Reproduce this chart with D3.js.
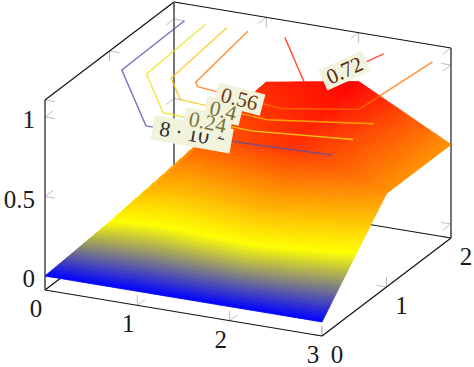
<!DOCTYPE html>
<html><head><meta charset="utf-8">
<style>html,body{margin:0;padding:0;background:#fff}svg{display:block}text{font-family:"Liberation Serif",serif;fill:#1a1a1a}</style>
<script src="https://cdn.jsdelivr.net/npm/d3@7/dist/d3.min.js"></script>
</head><body><script>
// ---- data ----
const xTicks = [0, 1, 2, 3];
const yTicks = [0, 1, 2];
const zTicks = [0, 0.5, 1];
const zTickLabels = ["0", "0.5", "1"];
const surfaceZ0 = [0, 0, 0, 0];
const surfaceZ1 = [0.03, 0.6, 0.7, 0.5];
const surfaceZ2 = [0.08, 0.7, 0.8, 0.5];
const surfaceC0 = [0, 0, 0, 0];
const surfaceC1 = [0.27, 0.6, 0.7, 0.5];
const surfaceC2 = [0.42, 0.72, 0.8, 0.5];
const contour008 = [[0.114,2],[0.133,1],[1,0.133],[2,0.114],[3,0.16]];
const contour024 = [[0.343,2],[0.4,1],[1,0.4],[2,0.343],[3,0.48]];
const contour040 = [[0.571,2],[0.667,1],[1,0.667],[2,0.571],[3,0.8]];
const contour056 = [[0.8,2],[0.933,1],[1,0.933],[2,0.8],[2.7,1],[2.8,2]];
const contour072 = [[1.2,2],[2,1.2],[2.27,2]];
const contourLevels = [0.08, 0.24, 0.4, 0.56, 0.72];
const contourLabelAt = [[1.51,0.12],[1.51,0.36],[1.51,0.6],[1.52,0.84],[2.12,1.61]];
const contourLabelSeg = [2, 2, 2, 2, 1];
const contourLabelInk = ["#2f2f35","#78783a","#77723a","#6b3a18","#5a2408"];

// ---- projection through linear scales ----
const W = 474, H = 367;
const sxX = d3.scaleLinear([0,3],[45,322]), sxY = d3.scaleLinear([0,2],[0,129]);
const syX = d3.scaleLinear([0,3],[276,322]), syY = d3.scaleLinear([0,2],[0,-98]);
const syZ = d3.scaleLinear([0,1],[0,-159]);
const P = (x,y,z) => [sxX(x)+sxY(y), syX(x)+syY(y)+syZ(z)];
const zBot = -0.088, zTop = 1.107, zPlane = 1;
const cmap = d3.scaleLinear([0,0.8/3,1.6/3,0.8],["#0000ff","#ffff00","#ff8000","#ff0000"]).interpolate(d3.interpolateRgb).clamp(true);

const svg = d3.select("body").append("svg").attr("width",W).attr("height",H).attr("viewBox",[0,0,W,H]);
const line = d3.line();
const seg = (g,a,b,col,w)=>g.append("path").attr("d",line([a,b])).attr("fill","none").attr("stroke",col).attr("stroke-width",w);

// ---- ticks ----
const gT = svg.append("g");
const TL = 10;
function tick(o, d){
  const a = P(...o), b0 = P(o[0]+d[0],o[1]+d[1],o[2]+d[2]);
  const dx=b0[0]-a[0], dy=b0[1]-a[1], n=Math.hypot(dx,dy);
  seg(gT,a,[a[0]+dx/n*TL,a[1]+dy/n*TL],"#b4b4b4",0.9);
}
xTicks.forEach(x=>{ tick([x,0,zBot],[0,1,0]); tick([x,0,zBot],[0,0,1]); tick([x,2,zTop],[0,-1,0]); tick([x,2,zTop],[0,0,-1]); });
yTicks.forEach(y=>{ tick([3,y,zBot],[-1,0,0]); tick([3,y,zBot],[0,0,1]); tick([0,y,zTop],[1,0,0]); tick([0,y,zTop],[0,0,-1]); });
zTicks.forEach(z=>{ tick([0,0,z],[1,0,0]); tick([0,0,z],[0,1,0]); tick([3,2,z],[-1,0,0]); tick([3,2,z],[0,-1,0]); tick([0,2,z],[1,0,0]); tick([0,2,z],[0,-1,0]); });

// ---- box ----
const gB = svg.append("g");
[[[0,0,zBot],[3,0,zBot]],[[3,0,zBot],[3,2,zBot]],[[0,0,zBot],[0,2,zBot]],[[0,2,zBot],[3,2,zBot]],
 [[0,0,zTop],[0,2,zTop]],[[0,2,zTop],[3,2,zTop]]].forEach(([a,b])=>seg(gB,P(...a),P(...b),"#111",1.2));
[[0,0],[0,2],[3,2]].forEach(([x,y])=>seg(gB,P(x,y,zBot),P(x,y,zTop),"#555",1.6));

// ---- surface ----
const Z=[surfaceZ0,surfaceZ1,surfaceZ2], C=[surfaceC0,surfaceC1,surfaceC2];
const bil=(G,x,y)=>{const i=Math.min(Math.floor(x),2),j=Math.min(Math.floor(y),1),u=x-i,v=y-j;
  return (1-u)*(1-v)*G[j][i]+u*(1-v)*G[j][i+1]+(1-u)*v*G[j+1][i]+u*v*G[j+1][i+1];};
const N=60, cells=[];
for(let j=2*N-1;j>=0;j--) for(let i=0;i<3*N;i++){
  const x0=i/N,x1=(i+1)/N,y0=j/N,y1=(j+1)/N;
  cells.push({pts:[[x0,y0],[x1,y0],[x1,y1],[x0,y1]].map(([x,y])=>P(x,y,bil(Z,x,y))),c:cmap(bil(C,(x0+x1)/2,(y0+y1)/2))});
}
svg.append("g").selectAll("polygon").data(cells).join("polygon")
  .attr("points",d=>d.pts.join(" ")).attr("fill",d=>d.c).attr("stroke",d=>d.c).attr("stroke-width",0.7).attr("stroke-linejoin","round");

// ---- contours ----
const contours=[contour008,contour024,contour040,contour056,contour072];
const gC=svg.append("g");
contours.forEach((c,k)=>{
  gC.append("path").attr("d",line(c.map(([x,y])=>P(x,y,zPlane)))).attr("fill","none")
    .attr("stroke",cmap(contourLevels[k])).attr("stroke-width",1.4).attr("stroke-opacity",0.8).attr("stroke-linejoin","round");
});
// first label goes under the rest (its exponent is partly covered in the reference);
// the other boxes come next, and their texts last so that none is cut.
const gRect=svg.append("g"), gText=svg.append("g");
contours.forEach((c,k)=>{
  const s=contourLabelSeg[k], a=P(c[s][0],c[s][1],zPlane), b=P(c[s+1][0],c[s+1][1],zPlane);
  const ang=Math.atan2(b[1]-a[1],b[0]-a[0])*180/Math.PI;
  const p=P(contourLabelAt[k][0],contourLabelAt[k][1],zPlane);
  const tf=`translate(${p[0]},${p[1]}) rotate(${ang})`;
  const gr=gRect.append("g").attr("transform",tf);
  const rect=gr.append("rect").attr("fill","#f2f3dc");
  const host=k===0?gr:gText.append("g").attr("transform",tf);
  const t=host.append("text").attr("text-anchor","middle").attr("y",7).attr("font-size",21.5).style("fill",contourLabelInk[k]);
  if(k===0){ t.append("tspan").text("8 · 10"); t.append("tspan").attr("dy",-7).attr("font-size",15).text("−2"); }
  else t.text(String(contourLevels[k]));
  const w=t.node().getComputedTextLength()+ (k===0?14:10), h=k===0?25:22;
  rect.attr("x",-w/2).attr("y",-h/2).attr("width",w).attr("height",h);
});

// ---- tick labels ----
const gX=svg.append("g").attr("font-size",25).attr("text-anchor","middle");
xTicks.forEach(x=>{const p=P(x,0,zBot); gX.append("text").attr("x",p[0]-9).attr("y",p[1]+27).text(x);});
yTicks.forEach(y=>{const p=P(3,y,zBot); gX.append("text").attr("x",p[0]+15).attr("y",p[1]+27).text(y);});
zTicks.forEach((z,i)=>{const p=P(0,0,z); gX.append("text").attr("text-anchor","end").attr("x",p[0]-10).attr("y",p[1]+11).text(zTickLabels[i]);});
</script></body></html>
